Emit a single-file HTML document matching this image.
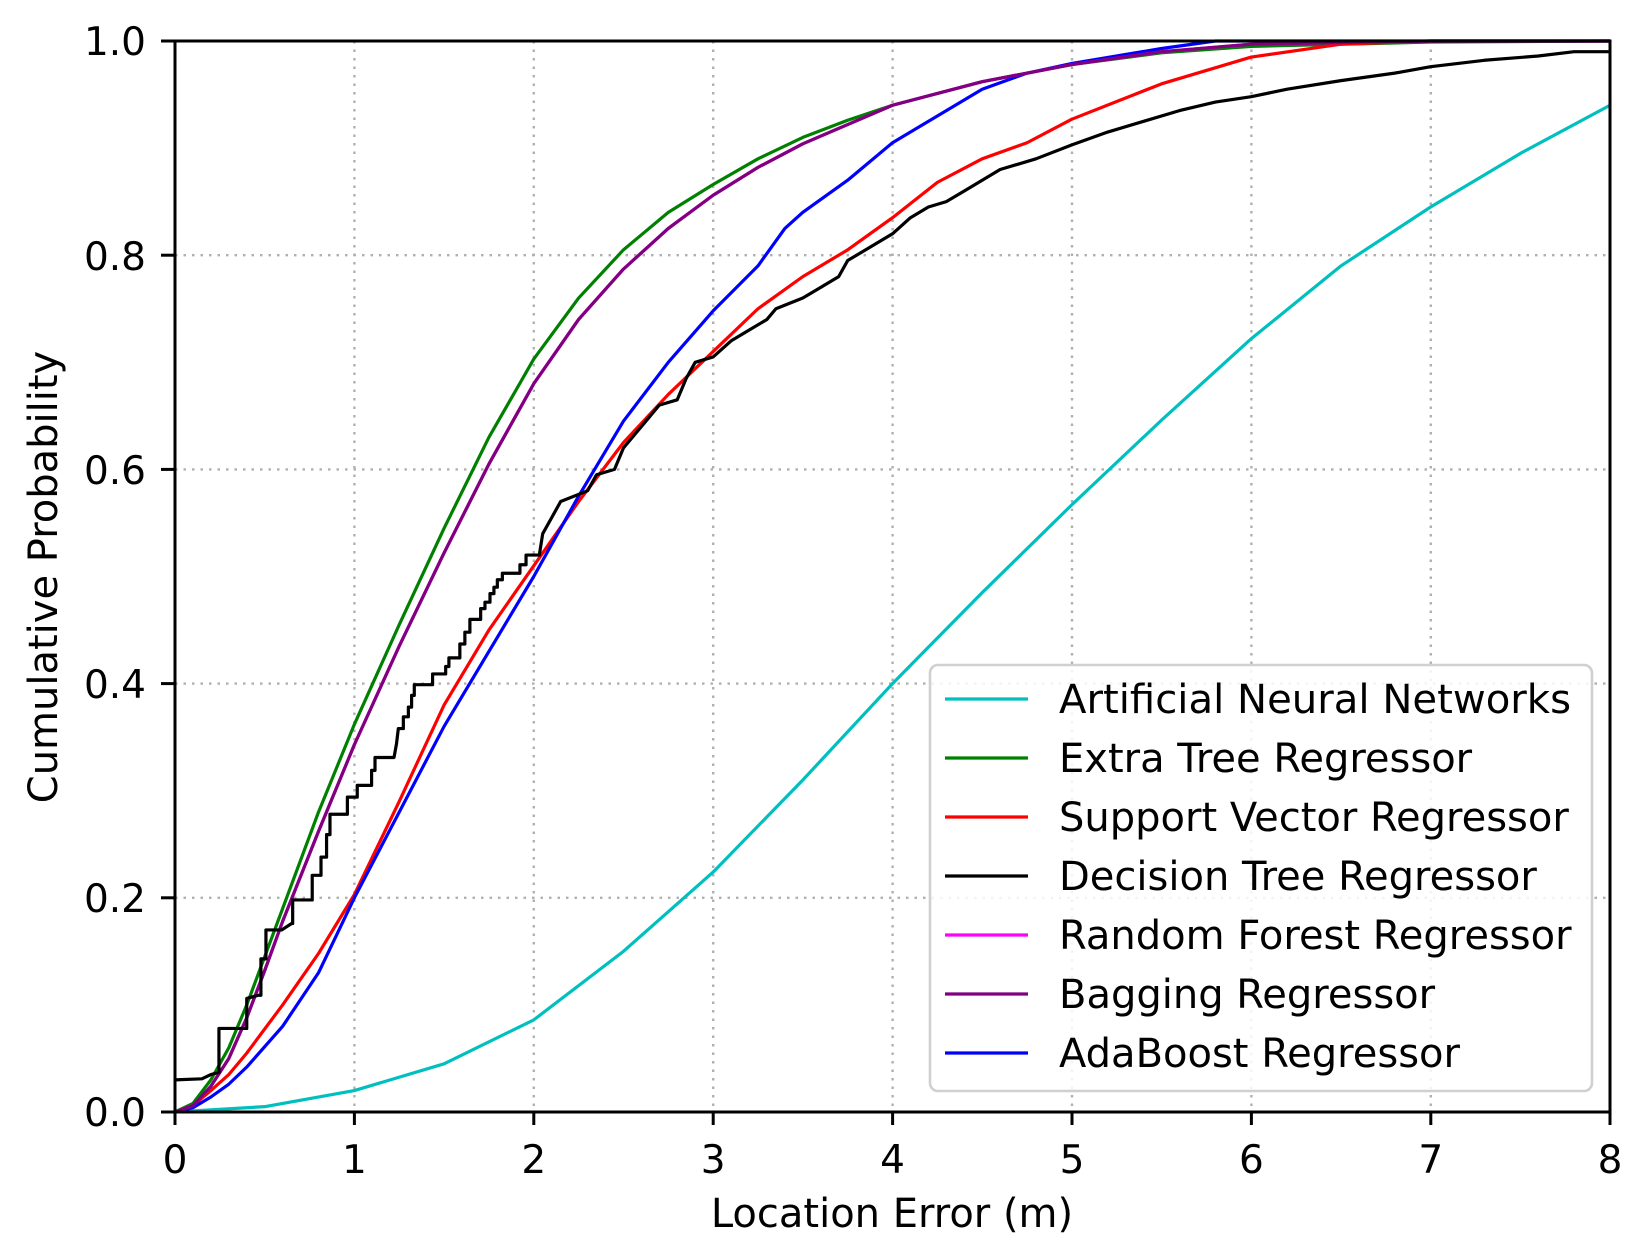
<!DOCTYPE html>
<html><head><meta charset="utf-8"><style>
html,body{margin:0;padding:0;background:#fff;}
svg{display:block;}
text{font-family:"DejaVu Sans","Liberation Sans",sans-serif;fill:#000;}
</style></head><body>
<svg width="1650" height="1255" viewBox="0 0 1650 1255" xmlns="http://www.w3.org/2000/svg">
<rect width="1650" height="1255" fill="#fff"/>
<g stroke="#b0b0b0" stroke-width="2.4" stroke-dasharray="2.5,6" fill="none">
<line x1="354.4" y1="41" x2="354.4" y2="1112"/>
<line x1="533.8" y1="41" x2="533.8" y2="1112"/>
<line x1="713.2" y1="41" x2="713.2" y2="1112"/>
<line x1="892.6" y1="41" x2="892.6" y2="1112"/>
<line x1="1072" y1="41" x2="1072" y2="1112"/>
<line x1="1251.4" y1="41" x2="1251.4" y2="1112"/>
<line x1="1430.8" y1="41" x2="1430.8" y2="1112"/>
<line x1="175" y1="897.8" x2="1610" y2="897.8"/>
<line x1="175" y1="683.6" x2="1610" y2="683.6"/>
<line x1="175" y1="469.4" x2="1610" y2="469.4"/>
<line x1="175" y1="255.2" x2="1610" y2="255.2"/>
</g>
<g transform="translate(175,1112) scale(179.375,-1071)" fill="none" stroke-width="3.2" stroke-linejoin="round">
<polyline vector-effect="non-scaling-stroke" stroke="#00bfbf" points="0,0 0.5,0.005 1,0.02 1.5,0.045 2,0.086 2.5,0.15 3,0.224 3.5,0.31 4,0.40 4.5,0.485 5,0.567 5.5,0.646 6,0.722 6.5,0.79 7,0.845 7.5,0.895 8,0.94"/>
<polyline vector-effect="non-scaling-stroke" stroke="#008000" points="0,0 0.1,0.008 0.2,0.03 0.3,0.06 0.4,0.1 0.5,0.145 0.6,0.19 0.8,0.28 1,0.362 1.25,0.455 1.5,0.545 1.75,0.63 2,0.703 2.25,0.76 2.5,0.805 2.75,0.84 3,0.866 3.25,0.89 3.5,0.91 3.75,0.926 4,0.94 4.5,0.962 5,0.978 5.5,0.989 6,0.995 7,0.999 8,1"/>
<polyline vector-effect="non-scaling-stroke" stroke="#ff0000" points="0,0 0.1,0.006 0.2,0.02 0.3,0.035 0.4,0.055 0.6,0.1 0.8,0.148 1,0.203 1.25,0.29 1.5,0.38 1.75,0.45 2,0.51 2.25,0.57 2.5,0.625 2.75,0.67 3,0.71 3.25,0.75 3.5,0.78 3.75,0.805 4,0.835 4.25,0.868 4.5,0.89 4.75,0.905 5,0.927 5.5,0.96 6,0.985 6.5,0.997 7,1 8,1"/>
<polyline vector-effect="non-scaling-stroke" stroke="#0000ff" points="0,0 0.1,0.004 0.2,0.014 0.3,0.026 0.4,0.042 0.6,0.08 0.8,0.13 1,0.2 1.25,0.28 1.5,0.36 1.75,0.43 2,0.5 2.25,0.575 2.5,0.645 2.75,0.7 3,0.748 3.25,0.79 3.4,0.825 3.5,0.84 3.75,0.87 4,0.905 4.25,0.93 4.5,0.955 4.75,0.97 5,0.979 5.5,0.993 5.8,1 8,1"/>
<polyline vector-effect="non-scaling-stroke" stroke="#ff00ff" points="0,0 0.1,0.006 0.2,0.024 0.3,0.05 0.4,0.088 0.5,0.132 0.6,0.178 0.8,0.262 1,0.343 1.25,0.435 1.5,0.522 1.75,0.605 2,0.68 2.25,0.74 2.5,0.787 2.75,0.825 3,0.856 3.25,0.882 3.5,0.904 3.75,0.922 4,0.94 4.5,0.962 5,0.978 5.5,0.99 6,0.997 7,1 8,1"/>
<polyline vector-effect="non-scaling-stroke" stroke="#800080" points="0,0 0.1,0.006 0.2,0.024 0.3,0.05 0.4,0.088 0.5,0.132 0.6,0.178 0.8,0.262 1,0.343 1.25,0.435 1.5,0.522 1.75,0.605 2,0.68 2.25,0.74 2.5,0.787 2.75,0.825 3,0.856 3.25,0.882 3.5,0.904 3.75,0.922 4,0.94 4.5,0.962 5,0.978 5.5,0.99 6,0.997 7,1 8,1"/>
<polyline vector-effect="non-scaling-stroke" stroke="#000000" points="0,0.03 0.15,0.031 0.2,0.035 0.245,0.037 0.245,0.078 0.4,0.078 0.4,0.106 0.465,0.109 0.479,0.109 0.479,0.143 0.507,0.143 0.507,0.17 0.595,0.17 0.65,0.176 0.656,0.176 0.656,0.198 0.765,0.198 0.765,0.221 0.814,0.221 0.814,0.238 0.845,0.238 0.845,0.259 0.864,0.259 0.864,0.278 0.961,0.278 0.961,0.294 1.016,0.294 1.016,0.305 1.096,0.305 1.096,0.319 1.115,0.319 1.115,0.331 1.221,0.331 1.235,0.344 1.245,0.358 1.273,0.358 1.273,0.369 1.301,0.369 1.301,0.378 1.319,0.378 1.319,0.389 1.334,0.389 1.334,0.399 1.436,0.399 1.436,0.409 1.509,0.409 1.509,0.416 1.527,0.416 1.527,0.424 1.588,0.424 1.588,0.437 1.616,0.437 1.616,0.448 1.644,0.448 1.644,0.46 1.704,0.46 1.704,0.47 1.728,0.47 1.728,0.476 1.756,0.476 1.756,0.484 1.778,0.484 1.778,0.49 1.797,0.49 1.797,0.497 1.825,0.497 1.825,0.503 1.923,0.503 1.923,0.511 1.957,0.511 1.957,0.52 2.031,0.52 2.05,0.54 2.1,0.555 2.15,0.57 2.3,0.58 2.35,0.595 2.45,0.6 2.5,0.62 2.6,0.64 2.7,0.66 2.8,0.665 2.85,0.685 2.9,0.7 3,0.705 3.1,0.72 3.2,0.73 3.3,0.74 3.35,0.75 3.5,0.76 3.6,0.77 3.7,0.78 3.75,0.795 3.9,0.81 4,0.82 4.1,0.835 4.2,0.845 4.3,0.85 4.4,0.86 4.5,0.87 4.6,0.88 4.8,0.89 5,0.903 5.2,0.915 5.4,0.925 5.6,0.935 5.8,0.943 6,0.948 6.2,0.955 6.5,0.963 6.8,0.97 7,0.976 7.3,0.982 7.6,0.986 7.8,0.99 8,0.99"/>
</g>
<rect x="175" y="41" width="1435" height="1071" fill="none" stroke="#000" stroke-width="3"/>
<g stroke="#000" stroke-width="3">
<line x1="175" y1="1112" x2="175" y2="1125"/><line x1="354.4" y1="1112" x2="354.4" y2="1125"/>
<line x1="533.8" y1="1112" x2="533.8" y2="1125"/><line x1="713.2" y1="1112" x2="713.2" y2="1125"/>
<line x1="892.6" y1="1112" x2="892.6" y2="1125"/><line x1="1072" y1="1112" x2="1072" y2="1125"/>
<line x1="1251.4" y1="1112" x2="1251.4" y2="1125"/><line x1="1430.8" y1="1112" x2="1430.8" y2="1125"/>
<line x1="1610" y1="1112" x2="1610" y2="1125"/>
<line x1="161" y1="1112" x2="175" y2="1112"/><line x1="161" y1="897.8" x2="175" y2="897.8"/>
<line x1="161" y1="683.6" x2="175" y2="683.6"/><line x1="161" y1="469.4" x2="175" y2="469.4"/>
<line x1="161" y1="255.2" x2="175" y2="255.2"/><line x1="161" y1="41" x2="175" y2="41"/>
</g>
<g font-size="39" text-anchor="middle">
<text x="175" y="1173">0</text><text x="354.4" y="1173">1</text><text x="533.8" y="1173">2</text>
<text x="713.2" y="1173">3</text><text x="892.6" y="1173">4</text><text x="1072" y="1173">5</text>
<text x="1251.4" y="1173">6</text><text x="1430.8" y="1173">7</text><text x="1610" y="1173">8</text>
</g>
<g font-size="39" text-anchor="end">
<text x="146" y="1126">0.0</text><text x="146" y="912">0.2</text><text x="146" y="698">0.4</text>
<text x="146" y="484">0.6</text><text x="146" y="270">0.8</text><text x="146" y="55">1.0</text>
</g>
<text x="892" y="1227" font-size="40" text-anchor="middle">Location Error (m)</text>
<text transform="translate(57,577) rotate(-90)" font-size="40" text-anchor="middle">Cumulative Probability</text>
<rect x="930" y="665" width="662" height="426" rx="8" fill="#fff" fill-opacity="0.85" stroke="#d0d0d0" stroke-width="2.6"/>
<g stroke-width="3.2">
<line x1="945" y1="699" x2="1028" y2="699" stroke="#00bfbf"/>
<line x1="945" y1="758" x2="1028" y2="758" stroke="#008000"/>
<line x1="945" y1="817" x2="1028" y2="817" stroke="#ff0000"/>
<line x1="945" y1="876" x2="1028" y2="876" stroke="#000000"/>
<line x1="945" y1="935" x2="1028" y2="935" stroke="#ff00ff"/>
<line x1="945" y1="994" x2="1028" y2="994" stroke="#800080"/>
<line x1="945" y1="1053" x2="1028" y2="1053" stroke="#0000ff"/>
</g>
<g font-size="40">
<text x="1059" y="713" textLength="512" lengthAdjust="spacingAndGlyphs">Artificial Neural Networks</text>
<text x="1059" y="772">Extra Tree Regressor</text>
<text x="1059" y="831">Support Vector Regressor</text>
<text x="1059" y="890">Decision Tree Regressor</text>
<text x="1059" y="949">Random Forest Regressor</text>
<text x="1059" y="1008">Bagging Regressor</text>
<text x="1059" y="1067">AdaBoost Regressor</text>
</g>
</svg>
</body></html>
